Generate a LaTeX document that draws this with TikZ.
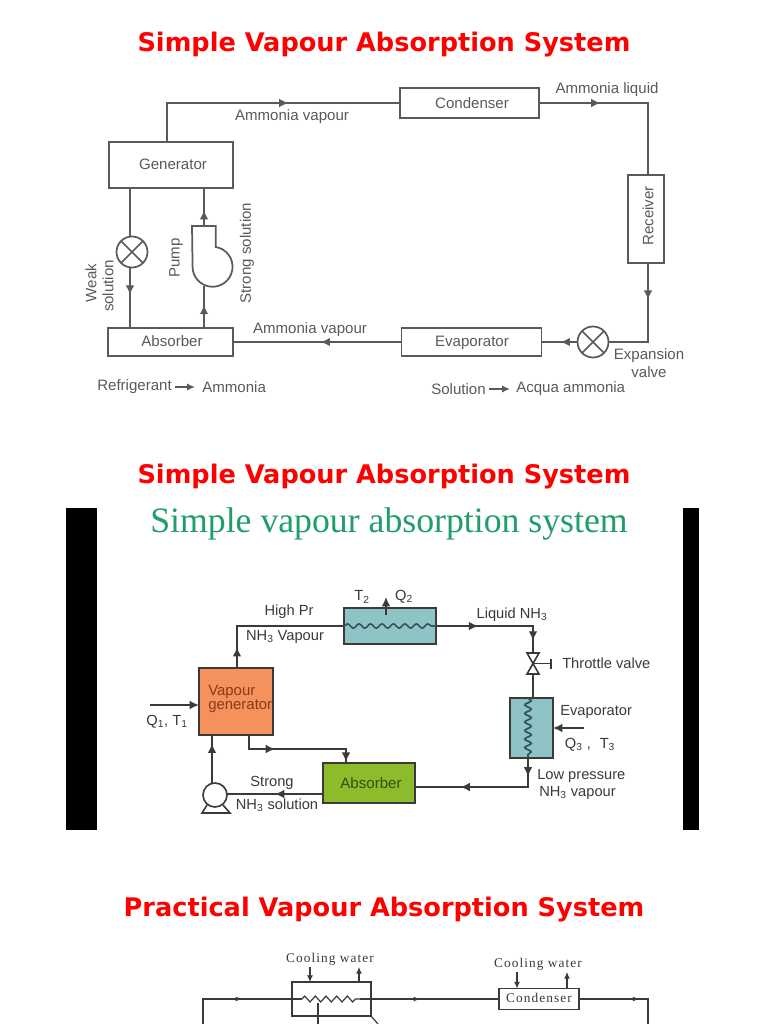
\documentclass[tikz,border=0pt]{standalone}
\usepackage{fontspec}
\setmainfont{Liberation Sans}
\newfontfamily\titlefont{DejaVu Sans}
\newfontfamily\serifhead{Liberation Serif}
\newfontfamily\wideserif[LetterSpace=8]{Liberation Serif}
\usetikzlibrary{arrows.meta,decorations.markings,decorations.pathmorphing,shapes.misc,calc}
\definecolor{grayink}{HTML}{5A5A5A}
\definecolor{darkink}{HTML}{3A3A3A}
\definecolor{titlered}{HTML}{FF0000}
\definecolor{headgreen}{HTML}{1F9E6C}
\definecolor{tealfill}{HTML}{8FC4C6}
\definecolor{tealline}{HTML}{2F5555}
\definecolor{orangefill}{HTML}{F4915C}
\definecolor{greenfill}{HTML}{8DBB2C}
\definecolor{browntext}{HTML}{8A3A1A}
\definecolor{olivetext}{HTML}{2F5010}
\tikzset{
  x=0.75pt,y=-0.75pt,
  sz/.style n args={2}{minimum width=#1*0.75pt,minimum height=#2*0.75pt,inner sep=0pt,outer sep=0pt},
  tip/.style={postaction={decorate,decoration={markings,mark=at position #1 with {\arrow{Latex[length=7pt,width=6.5pt]}}}}},
  tipc/.style={postaction={decorate,decoration={markings,mark=at position #1 with {\arrow{Latex[length=5.5pt,width=3.5pt]}}}}},
  title/.style={font=\titlefont\bfseries\fontsize{19.2}{21}\selectfont,text=titlered,inner sep=0pt},
  boxa/.style={draw=grayink,line width=1.3pt,fill=white},
  linea/.style={draw=grayink,line width=1.3pt},
  texta/.style={text=grayink,font=\fontsize{11.3}{13}\selectfont,inner sep=0pt},
  lineb/.style={draw=darkink,line width=1.2pt},
  textb/.style={text=darkink,font=\fontsize{11}{13}\selectfont,inner sep=0pt},
  linec/.style={draw=darkink,line width=0.9pt},
  textc/.style={text=darkink,font=\wideserif\fontsize{10}{12}\selectfont,inner sep=0pt},
  coilh/.style={draw=tealline,line width=1.2pt,decorate,decoration={snake,segment length=8.6pt,amplitude=1.6pt}},
  coilv/.style={draw=tealline,line width=1.3pt,decorate,decoration={snake,segment length=6.4pt,amplitude=2.4pt}},
}
\begin{document}
\begin{tikzpicture}
\useasboundingbox (0,0) rectangle (768,1024);
\clip (0,0) rectangle (768,1024);
\fill[white] (0,0) rectangle (768,1024);

% ---- titles
\node[title] (t1) at (384,44.5) {Simple Vapour Absorption System};
\node[title] (t2) at (384,476.5) {Simple Vapour Absorption System};
\node[title] (t3) at (384,909.5) {Practical Vapour Absorption System};

% ---- panel 1
\node[boxa,sz={124}{46}] (gen) at (171,165) {};
\node[boxa,sz={125}{28}] (abs) at (170.5,342) {};
\node[boxa,sz={139}{30}] (cond) at (469.5,103) {};
\node[boxa,sz={36}{88}] (rec) at (646,219) {};
\node[boxa,sz={140}{28}] (evap) at (471.5,342) {};
\node[draw=grayink,line width=1.3pt,circle,sz={31}{31}] (va) at (132,252) {};
\draw[linea] (va.45)--(va.225) (va.135)--(va.315);
\node[draw=grayink,line width=1.3pt,circle,sz={31}{31}] (vb) at (593,342) {};
\draw[linea] (vb.45)--(vb.225) (vb.135)--(vb.315);

\coordinate (xa) at (167,0);
\coordinate (xw) at (130,0);
\coordinate (xp) at (204,0);
\coordinate (xr) at (648,0);
\coordinate (ptop) at (204,226);
\coordinate (pbot) at (204,286);

\draw[linea,tip=0.59] (gen.north -| xa) |- (cond.west);
\draw[linea,tip=0.34] (cond.east) -| (rec.north -| xr);
\draw[linea,tip=0.31] (rec.south -| xr) |- (vb.east);
\draw[linea,tip=0.47] (vb.west) -- (evap.east);
\draw[linea,tip=0.48] (evap.west) -- (evap.west -| abs.east);
\draw[linea] (gen.south -| xw) -- (va.north -| xw);
\draw[linea,tip=0.45] (va.south -| xw) -- (abs.north -| xw);
\draw[linea,tip=0.55] (abs.north -| xp) -- (pbot);
\draw[linea,tip=0.42] (ptop) -- (gen.south -| xp);
\draw[linea] (192,226) -- (215.7,226) -- (215.7,247) arc[start angle=-81,end angle=180,radius=20] -- cycle;

\node[texta] (l1) at (292,117) {Ammonia vapour};
\node[texta] (l2) at (173,164) {Generator};
\node[texta] (l3) at (172,341) {Absorber};
\node[texta] (l4) at (310,330) {Ammonia vapour};
\node[texta] (l5) at (472,103) {Condenser};
\node[texta] (l6) at (607,90) {Ammonia liquid};
\node[texta] (l7) at (472,343) {Evaporator};
\node[texta] (l8) at (649,356) {Expansion};
\node[texta] (l9) at (649,372) {valve};
\node[texta,rotate=90] (l10) at (91,283) {Weak};
\node[texta,rotate=90] (l11) at (108,286) {solution};
\node[texta,rotate=90] (l12) at (176,258) {Pump};
\node[texta,rotate=90] (l13) at (247,253) {Strong solution};
\node[texta,rotate=90] (l14) at (648,216) {Receiver};
\node[texta,anchor=west] (ra) at (97,387) {Refrigerant};
\node[texta,anchor=west] (rb) at (202,387) {Ammonia};
\draw[linea,-{Latex[length=6pt,width=5.5pt]}] (ra.east)++(3,0) -- ($(rb.west)+(-7,0)$);
\node[texta,anchor=west] (sa) at (431,389) {Solution};
\node[texta,anchor=west] (sb) at (516,389) {Acqua ammonia};
\draw[linea,-{Latex[length=6pt,width=5.5pt]}] (sa.east)++(3,0) -- ($(sb.west)+(-6,0)$);

% ---- panel 2
\fill[black] (66,508) rectangle (97,830);
\fill[black] (683,508) rectangle (699,830);
\node[text=headgreen,inner sep=0pt,font=\serifhead\fontsize{26.8}{28}\selectfont] (hd) at (389,524) {Simple vapour absorption system};

\node[draw=darkink,line width=1.4pt,fill=orangefill,sz={74}{67}] (vg) at (236,701.5) {};
\node[draw=darkink,line width=1.4pt,fill=tealfill,sz={92}{36}] (co) at (390,626) {};
\node[draw=darkink,line width=1.4pt,fill=tealfill,sz={43}{60}] (ev) at (531.5,728) {};
\node[draw=darkink,line width=1.4pt,fill=greenfill,sz={92}{40}] (ab) at (369,783) {};
\node[draw=darkink,line width=1.2pt,circle,sz={24}{24},fill=white] (pu) at (215,795) {};
\node[sz={12}{21}] (th) at (533,663.5) {};
\draw[lineb] (th.north west) -- (th.north east) -- (th.south west) -- (th.south east) -- cycle;
\draw[lineb] (th.center) -- (551,663.5);
\draw[lineb] (551,659) -- (551,669);
\draw[lineb] (207,805) -- (202,813) -- (230,813) -- (223,805);

\coordinate (xg) at (237,0);
\coordinate (xpu) at (212,0);
\coordinate (xwk) at (249,0);
\coordinate (xab) at (346,0);
\coordinate (xth) at (533,0);
\coordinate (xev) at (528,0);
\coordinate (ylo) at (0,749);
\coordinate (yev) at (0,787);
\coordinate (yst) at (0,794);
\coordinate (qa) at (150,705);
\coordinate (qb) at (584,728);
\coordinate (qc) at (386,615);
\coordinate (qd) at (386,597);

\draw[lineb,tip=0.14] (vg.north -| xg) |- (co.west);
\draw[coilh] (co.west) -- (co.east);
\draw[lineb,tip=0.34,tip=0.90] (co.east) -| (th.north);
\draw[lineb] (th.south) -- (ev.north -| th.south);
\draw[coilv] (ev.north -| xev) -- (ev.south -| xev);
\draw[lineb,tip=0.13,tip=0.68] (ev.south -| xev) |- (ab.east |- yev);
\draw[lineb,tip=0.5] (ab.west |- yst) -- (pu.east |- yst);
\draw[lineb,tip=0.82] (pu.north -| xpu) -- (vg.south -| xpu);
\draw[lineb,tip=0.32,tip=0.99] (vg.south -| xwk) |- (xab |- ylo) -- (ab.north -| xab);
\draw[lineb,-{Latex[length=7pt,width=6.5pt]}] (qa) -- (vg.west |- qa);
\draw[lineb,-{Latex[length=7pt,width=6.5pt]}] (qb) -- (ev.east |- qb);
\draw[lineb,-{Latex[length=7pt,width=6.5pt]}] (qc) -- (qd);

\node[textb] (m1) at (289,612) {High Pr};
\node[textb] (m2) at (285,637) {NH\textsubscript{3} Vapour};
\node[textb] (m3) at (362,597) {T\textsubscript{2}};
\node[textb] (m4) at (404,597) {Q\textsubscript{2}};
\node[textb] (m5) at (512,615) {Liquid NH\textsubscript{3}};
\node[textb,anchor=west] (m6) at (562,663) {Throttle valve};
\node[textb,anchor=west] (m7) at (560,712) {Evaporator};
\node[textb] (m8) at (590,745) {Q\textsubscript{3} ,\,\, T\textsubscript{3}};
\node[textb,anchor=west] (m9) at (537,776) {Low pressure};
\node[textb,anchor=west] (m10) at (539,793) {NH\textsubscript{3} vapour};
\node[textb] (m11) at (167,722) {Q\textsubscript{1}, T\textsubscript{1}};
\node[textb] (m12) at (272,783) {Strong};
\node[textb] (m13) at (277,805) {NH\textsubscript{3} solution};
\node[inner sep=0pt,anchor=west,align=left,text=browntext,font=\fontsize{11.2}{10.5}\selectfont] (m14) at (208,698.5) {Vapour\\generator};
\node[inner sep=0pt,text=olivetext,font=\fontsize{11.3}{13}\selectfont] (m15) at (371,783) {Absorber};

% ---- panel 3
\node[draw=darkink,line width=0.9pt,sz={79}{34}] (c1) at (331.5,999) {};
\node[draw=darkink,line width=0.9pt,sz={80}{21}] (c2) at (539,999) {};
\coordinate (lc) at (203,1024);
\coordinate (rc) at (648,1024);
\coordinate (cl) at (302,999);
\coordinate (cr) at (360,999);
\coordinate (cv) at (318,1024);
\coordinate (cvt) at (318,1003);
\coordinate (dg) at (378,1024);
\coordinate (ai) at (310,967);
\coordinate (ao) at (359,967);
\coordinate (bi) at (517,972);
\coordinate (bo) at (567,972);

\draw[linec,tipc=0.57] (lc) |- (c1.west);
\draw[linec] (c1.west) -- (cl);
\draw[linec,decorate,decoration={zigzag,segment length=8pt,amplitude=2.2pt}] (cl) -- (cr);
\draw[linec] (cr) -- (c1.east);
\draw[linec,tipc=0.39] (c1.east) -- (c2.west);
\draw[linec,tipc=0.65] (c2.east) -| (rc);
\draw[linec] (cvt) -- (cv);
\draw[linec] (c1.south east) -- (dg);
\draw[linec,-{Latex[length=5pt,width=4.5pt]}] (ai) -- (ai |- c1.north);
\draw[linec,-{Latex[length=5pt,width=4.5pt]}] (ao |- c1.north) -- (ao);
\draw[linec,-{Latex[length=5pt,width=4.5pt]}] (bi) -- (bi |- c2.north);
\draw[linec,-{Latex[length=5pt,width=4.5pt]}] (bo |- c2.north) -- (bo);
\node[textc] (n1) at (330,959) {Cooling water};
\node[textc] (n2) at (538,964) {Cooling water};
\node[textc] (n3) at (539,998) {Condenser};
\end{tikzpicture}
\end{document}
